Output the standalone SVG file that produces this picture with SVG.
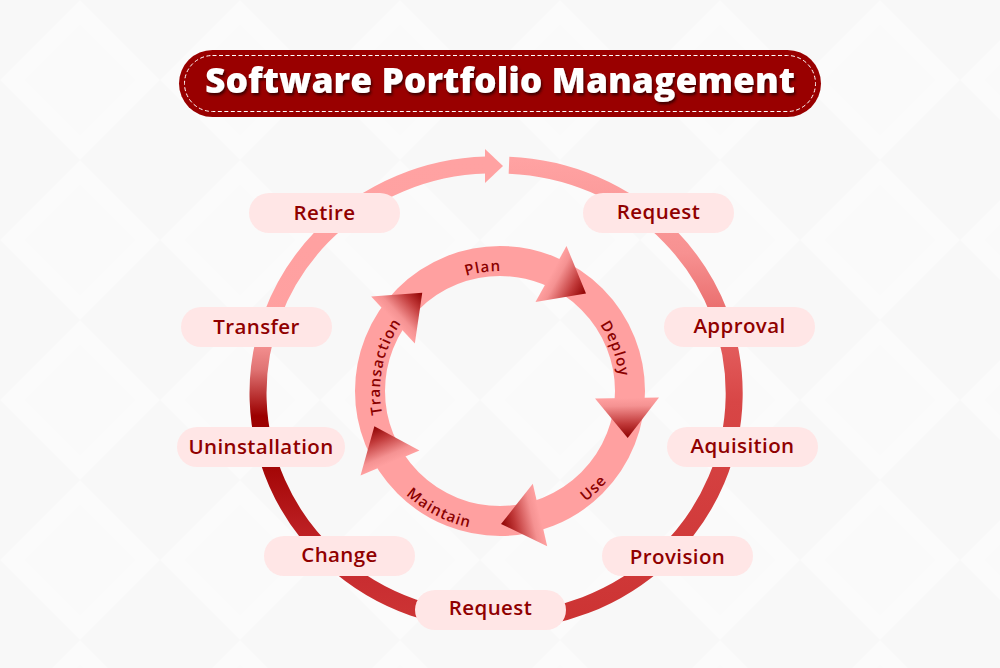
<svg xmlns="http://www.w3.org/2000/svg" xmlns:xlink="http://www.w3.org/1999/xlink" width="1000" height="668" viewBox="0 0 1000 668">
  <defs>
    <style>
      .pill { fill: #ffe6e6; }
      .lbl { font-family: "Open Sans", "Liberation Sans", sans-serif; font-weight: 600; font-size: 20.5px; fill: #900000; text-anchor: middle; letter-spacing: 0.4px; }
      .arc { font-family: "Open Sans", "Liberation Sans", sans-serif; font-weight: 600; font-size: 15px; fill: #8a0000; letter-spacing: 1px; }
      .ttl { font-family: "Open Sans", "Liberation Sans", sans-serif; font-weight: 800; font-size: 36px; fill: #ffffff; text-anchor: middle; }
    </style>
    <pattern id="bgp" width="160" height="160" patternUnits="userSpaceOnUse">
      <rect width="160" height="160" fill="#f8f8f8"/>
      <polygon points="80,0 160,80 80,160 0,80" fill="#fbfbfb"/>
      <polygon points="80,25 135,80 80,135 25,80" fill="#fafafa"/>
    </pattern>
    <linearGradient id="gRight" gradientUnits="userSpaceOnUse" x1="0" y1="160" x2="0" y2="625">
      <stop offset="0" stop-color="#ffa2a2"/>
      <stop offset="0.2" stop-color="#f79191"/>
      <stop offset="0.36" stop-color="#e66464"/>
      <stop offset="0.52" stop-color="#d84646"/>
      <stop offset="1" stop-color="#cc3333"/>
    </linearGradient>
    <linearGradient id="gLeft" gradientUnits="userSpaceOnUse" x1="0" y1="160" x2="0" y2="625">
      <stop offset="0" stop-color="#ffa2a2"/>
      <stop offset="0.37" stop-color="#ffa0a0"/>
      <stop offset="0.45" stop-color="#e07474"/>
      <stop offset="0.55" stop-color="#9c0000"/>
      <stop offset="0.66" stop-color="#a30606"/>
      <stop offset="0.85" stop-color="#c6292e"/>
      <stop offset="1" stop-color="#cd3535"/>
    </linearGradient>
    <linearGradient id="gHead" x1="0" y1="0" x2="1" y2="0">
      <stop offset="0" stop-color="#ffa0a0"/>
      <stop offset="0.2" stop-color="#f59292"/>
      <stop offset="0.65" stop-color="#c03838"/>
      <stop offset="1" stop-color="#8e0000"/>
    </linearGradient>
    <path id="head" d="M0,-32 L40,0 L0,32 Z" fill="url(#gHead)"/>
    <path id="cwPath" d="M500,511 A120,120 0 1 1 500,271 A120,120 0 1 1 500,511" fill="none"/>
    <path id="ccwPath" d="M500,251 A140,140 0 1 0 500,531 A140,140 0 1 0 500,251" fill="none"/>
    <filter id="tshadow" x="-5%" y="-30%" width="110%" height="160%">
      <feDropShadow dx="1.5" dy="2.5" stdDeviation="1.2" flood-color="#2a0000" flood-opacity="0.75"/>
    </filter>
  </defs>

  <rect width="1000" height="668" fill="url(#bgp)"/>

  <g id="title">
    <rect x="179" y="50" width="642" height="67" rx="33.5" fill="#990000"/>
    <rect x="184.5" y="55.5" width="631" height="56" rx="28" fill="none" stroke="#ffffff" stroke-width="1" stroke-dasharray="4 2.5"/>
    <text class="ttl" x="500" y="93" textLength="590" lengthAdjust="spacingAndGlyphs" filter="url(#tshadow)">Software Portfolio Management</text>
  </g>

  <g id="connectors">
    <path d="M509,165.2 A235,228 0 0 1 500,621" fill="none" stroke="url(#gRight)" stroke-width="17"/>
    <path d="M500,621 A235,228 0 0 1 486,165.1" fill="none" stroke="url(#gLeft)" stroke-width="17"/>
    <polygon points="485,149 503,166 485,183" fill="#ffa2a2"/>
    <circle cx="500" cy="391" r="130" fill="none" stroke="#ffa0a0" stroke-width="30"/>
    <use xlink:href="#head" href="#head" transform="translate(551,274) rotate(29)"/>
    <use xlink:href="#head" href="#head" transform="translate(627,398) rotate(89)"/>
    <use xlink:href="#head" href="#head" transform="translate(540,515) rotate(167)"/>
    <use xlink:href="#head" href="#head" transform="translate(390,463) rotate(247)"/>
    <use xlink:href="#head" href="#head" transform="translate(393,320) rotate(317)"/>
  </g>

  <g id="inner-labels">
    <text class="arc"><textPath xlink:href="#cwPath" href="#cwPath" startOffset="47.8%" text-anchor="middle">Plan</textPath></text>
    <text class="arc"><textPath xlink:href="#cwPath" href="#cwPath" startOffset="69.4%" text-anchor="middle">Deploy</textPath></text>
    <text class="arc"><textPath xlink:href="#cwPath" href="#cwPath" startOffset="28.3%" text-anchor="middle">Transaction</textPath></text>
    <text class="arc"><textPath xlink:href="#ccwPath" href="#ccwPath" startOffset="62.2%" text-anchor="middle">Use</textPath></text>
    <text class="arc"><textPath xlink:href="#ccwPath" href="#ccwPath" startOffset="42.4%" text-anchor="middle">Maintain</textPath></text>
  </g>

  <g id="node-retire"><rect class="pill" x="249" y="193" width="151" height="40" rx="20"/><text class="lbl" x="324.5" y="220">Retire</text></g>
  <g id="node-request-top"><rect class="pill" x="583" y="193" width="151" height="40" rx="20"/><text class="lbl" x="658.5" y="219">Request</text></g>
  <g id="node-transfer"><rect class="pill" x="181" y="307" width="151" height="40" rx="20"/><text class="lbl" x="256.5" y="334">Transfer</text></g>
  <g id="node-approval"><rect class="pill" x="664" y="307" width="151" height="40" rx="20"/><text class="lbl" x="739.5" y="333">Approval</text></g>
  <g id="node-uninstallation"><rect class="pill" x="177" y="427" width="168" height="40" rx="20"/><text class="lbl" x="261" y="454">Uninstallation</text></g>
  <g id="node-aquisition"><rect class="pill" x="667" y="427" width="151" height="40" rx="20"/><text class="lbl" x="742.5" y="453">Aquisition</text></g>
  <g id="node-change"><rect class="pill" x="264" y="536" width="151" height="40" rx="20"/><text class="lbl" x="339.5" y="562">Change</text></g>
  <g id="node-provision"><rect class="pill" x="602" y="536" width="151" height="40" rx="20"/><text class="lbl" x="677.5" y="564">Provision</text></g>
  <g id="node-request-bottom"><rect class="pill" x="415" y="590" width="151" height="40" rx="20"/><text class="lbl" x="490.5" y="615">Request</text></g>
</svg>
